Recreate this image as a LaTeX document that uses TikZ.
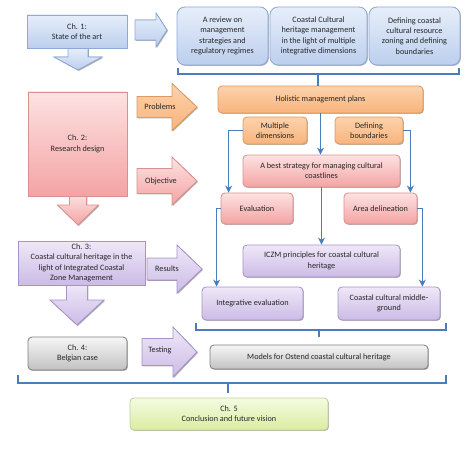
\documentclass[tikz,border=0pt]{standalone}
\usepackage{fontspec}
\setmainfont{Carlito}
\usetikzlibrary{arrows.meta,shadows}
\definecolor{ink}{HTML}{262626}
\definecolor{linkc}{HTML}{4A7EBB}
\definecolor{bluetop}{HTML}{E6EEFA}
\definecolor{bluebot}{HTML}{BCCFEE}
\definecolor{blueln}{HTML}{8FA9D6}
\definecolor{orgtop}{HTML}{FCD2AC}
\definecolor{orgbot}{HTML}{F8B47C}
\definecolor{orgln}{HTML}{E09A5C}
\definecolor{pnktop}{HTML}{FDE2E2}
\definecolor{pnkbot}{HTML}{F4A3A3}
\definecolor{pnkln}{HTML}{D9908E}
\definecolor{prptop}{HTML}{EFE8F8}
\definecolor{prpbot}{HTML}{CBBBE6}
\definecolor{prpln}{HTML}{A892C8}
\definecolor{grytop}{HTML}{F6F6F6}
\definecolor{grybot}{HTML}{C2C2C2}
\definecolor{gryln}{HTML}{7F7F7F}
\definecolor{grntop}{HTML}{F5FBE2}
\definecolor{grnbot}{HTML}{DAEDA2}
\definecolor{grnln}{HTML}{C0D496}

\def\pu{0.03cm}
% fat block arrows: style, tail, length, shaft half width, head half width, head length
\newcommand{\fatright}[6]{%
  \filldraw[#1,shift={#2}] (0,-#4) -- ({#3-#6},-#4) -- ({#3-#6},-#5) -- (#3,0)
    -- ({#3-#6},#5) -- ({#3-#6},#4) -- (0,#4) -- cycle;}
\newcommand{\fatdown}[6]{%
  \filldraw[#1,shift={#2}] (-#4,0) -- (-#4,{#3-#6}) -- (-#5,{#3-#6}) -- (0,#3)
    -- (#5,{#3-#6}) -- (#4,{#3-#6}) -- (#4,0) -- cycle;}

\tikzset{
  shade/.style={drop shadow={shadow xshift=0.8pt,shadow yshift=-0.8pt,opacity=.3,fill=black}},
  box/.style={shade,line width=0.7pt,align=center,text=ink,inner sep=2pt,
    font=\fontsize{7}{8.8}\selectfont},
  bluebox/.style={box,draw=blueln,top color=bluetop,bottom color=bluebot},
  orgbox/.style={box,draw=orgln,top color=orgtop,bottom color=orgbot,rounded corners=4*\pu},
  pnkbox/.style={box,draw=pnkln,top color=pnktop,bottom color=pnkbot,rounded corners=4*\pu},
  prpbox/.style={box,draw=prpln,top color=prptop,bottom color=prpbot,rounded corners=4*\pu},
  grybox/.style={box,draw=gryln,top color=grytop,bottom color=grybot,rounded corners=4*\pu},
  grnbox/.style={box,draw=grnln,top color=grntop,bottom color=grnbot,rounded corners=4*\pu},
  bluearr/.style={shade,draw=blueln,line width=0.7pt,top color=bluetop,bottom color=bluebot},
  orgarr/.style={shade,draw=orgln,line width=0.7pt,top color=orgtop,bottom color=orgbot},
  pnkarr/.style={shade,draw=pnkln,line width=0.7pt,top color=pnktop,bottom color=pnkbot},
  prparr/.style={shade,draw=prpln,line width=0.7pt,top color=prptop,bottom color=prpbot},
  arrlbl/.style={text=ink,font=\fontsize{7}{8.8}\selectfont},
  link/.style={draw=linkc,line width=1.5pt,-{Stealth[length=6pt,width=6pt]}},
  brace/.style={draw=linkc,line width=1.4pt},
}

\begin{document}
\begin{tikzpicture}[x=\pu,y=-\pu]
  \useasboundingbox (0,0) rectangle (474,450);

  % chapter blocks and their arrows
  \fatdown{bluearr}{(78,48)}{22}{10}{24}{13}
  \fatright{bluearr}{(135,30)}{32}{10}{17}{11}
  \node[bluebox,minimum width=100*\pu,minimum height=33*\pu] (ch1) at (77,31.5)
       {Ch. 1:\\State of the art};

  \fatdown{pnkarr}{(78,194)}{31}{8.5}{20.5}{20}
  \node[pnkbox,rounded corners=0pt,minimum width=99*\pu,minimum height=104*\pu] (ch2) at (77.5,144)
       {Ch. 2:\\Research design};
  \fatright{orgarr}{(137,107)}{60}{10.5}{23.5}{25}
  \node[arrlbl] (probl) at (160,107) {Problems};
  \fatright{pnkarr}{(137,181)}{60}{12.5}{24}{25}
  \node[arrlbl] (objct) at (161,181) {Objective};

  \fatdown{prparr}{(77,284)}{41}{10.5}{27}{25}
  \node[prpbox,rounded corners=0pt,minimum width=127*\pu,minimum height=44*\pu] (ch3) at (81.5,263)
       {Ch. 3:\\Coastal cultural heritage in the\\light of Integrated Coastal\\Zone Management};
  \fatright{prparr}{(147,269)}{55}{11}{24}{25}
  \node[arrlbl] (reslt) at (167,269) {Results};

  \node[grybox,minimum width=99*\pu,minimum height=33*\pu] (ch4) at (77.5,353.5)
       {Ch. 4:\\Belgian case};
  \fatright{prparr}{(142,352)}{55}{13.5}{25}{24}
  \node[arrlbl] (tstng) at (160,350) {Testing};

  \node[grnbox,minimum width=198*\pu,minimum height=32*\pu] (ch5) at (229,414)
       {Ch. 5\\Conclusion  and future vision};

  % state of the art
  \node[bluebox,rounded corners=8*\pu,minimum width=91*\pu,minimum height=58*\pu] (review) at (222.5,36)
       {A review on\\management\\strategies and\\regulatory regimes};
  \node[bluebox,rounded corners=8*\pu,minimum width=97*\pu,minimum height=58*\pu] (dims) at (318.5,36)
       {Coastal Cultural\\heritage management\\in the light of multiple\\integrative dimensions};
  \node[bluebox,rounded corners=8*\pu,minimum width=91*\pu,minimum height=58*\pu] (zoning) at (414.5,36)
       {Defining coastal\\cultural resource\\zoning and defining\\boundaries};

  % research design
  \node[orgbox,minimum width=205*\pu,minimum height=27*\pu] (holist) at (320.5,99.5)
       {Holistic management plans};
  \node[orgbox,minimum width=64*\pu,minimum height=27*\pu] (multi) at (275,130.5)
       {Multiple\\dimensions};
  \node[orgbox,minimum width=68*\pu,minimum height=27*\pu] (bound) at (369,130.5)
       {Defining\\boundaries};
  \node[pnkbox,minimum width=157*\pu,minimum height=32*\pu] (best) at (321.5,171)
       {A best strategy for managing cultural\\coastlines};
  \node[pnkbox,minimum width=72*\pu,minimum height=31*\pu] (evalu) at (257,208.5)
       {Evaluation};
  \node[pnkbox,minimum width=73*\pu,minimum height=31*\pu] (area) at (380.5,208.5)
       {Area delineation};

  % ICZM results
  \node[prpbox,minimum width=157*\pu,minimum height=32*\pu] (iczm) at (321.5,261)
       {ICZM principles for coastal cultural\\heritage};
  \node[prpbox,minimum width=101*\pu,minimum height=33*\pu] (integ) at (252.5,303.5)
       {Integrative evaluation};
  \node[prpbox,minimum width=102*\pu,minimum height=33*\pu] (middle) at (389,303.5)
       {Coastal cultural middle-\\ground};

  \node[grybox,minimum width=218*\pu,minimum height=24*\pu] (models) at (319,357)
       {Models for Ostend coastal cultural heritage};

  % connectors
  \draw[link] (holist.south) -- (holist.south |- best.north);
  \draw[link] (multi.west) -| ([xshift=8*\pu]evalu.north west);
  \draw[link] (bound.east) -| ([xshift=-7*\pu]area.north east);
  \draw[link] (best.south) -- (best.south |- iczm.north);
  \draw[link] (evalu.west) -| ([xshift=15*\pu]integ.north west);
  \draw[link] (area.east) -| ([xshift=-18*\pu]middle.north east);

  % brackets
  \coordinate (b1) at (318,74);
  \draw[brace] (178,68) -- (178,74) -- (459,74) -- (459,68);
  \draw[brace] (b1) -- (b1 |- holist.north);
  \coordinate (b2) at (319,330);
  \draw[brace] (196,323) -- (196,330) -- (446,330) -- (446,323);
  \draw[brace] (b2) -- ++(0,7);
  \coordinate (b3) at (228,383);
  \draw[brace] (18,375) -- (18,383) -- (446,383) -- (446,375);
  \draw[brace] (b3) -- ++(0,10);
\end{tikzpicture}
\end{document}
